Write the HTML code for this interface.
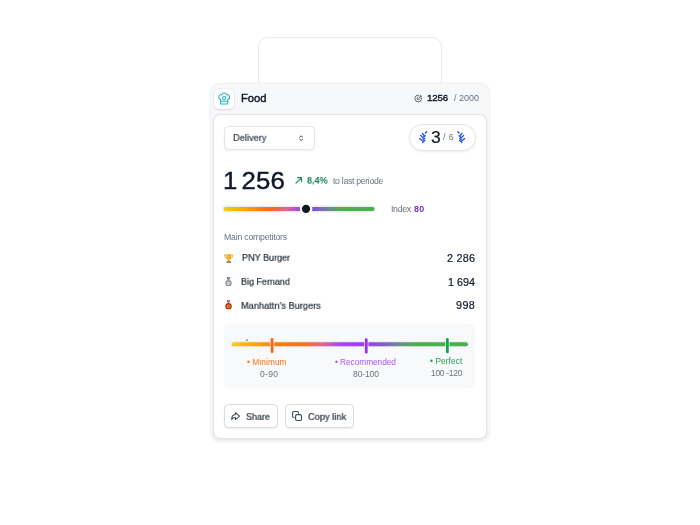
<!DOCTYPE html>
<html>
<head>
<meta charset="utf-8">
<style>
*{box-sizing:border-box;margin:0;padding:0}
html,body{width:700px;height:525px;background:#fff;overflow:hidden}
body{font-family:"Liberation Sans",sans-serif;color:#111827;position:relative}
.abs{position:absolute}
.t{position:absolute;white-space:nowrap;line-height:1;will-change:transform}
#back{left:258px;top:37px;width:184px;height:60px;border:1px solid #e7e9ed;border-radius:10px 10px 0 0;background:#fff}
#outer{left:210px;top:83px;width:280px;height:359px;background:#f7f8fa;border:1px solid #f2f3f6;border-radius:10px;box-shadow:0 0 0 .6px rgba(236,238,242,.5)}
#inner{left:213px;top:114px;width:274px;height:325px;background:#fff;border:1px solid #e4e6ea;border-radius:7.5px;box-shadow:0 0 0 .6px rgba(228,230,236,.5),0 1px 2px rgba(16,24,40,.07)}
#icobox{left:214px;top:88.5px;width:20px;height:20px;background:#fff;border-radius:4.5px;box-shadow:0 0 0 .5px rgba(16,24,40,.06),0 1px 2px rgba(16,24,40,.12)}
#select{left:224px;top:126px;width:91px;height:23.5px;background:#fff;border:1px solid #e2e5ea;border-radius:4.5px;box-shadow:0 1px 1.5px rgba(16,24,40,.07)}
#badge{left:409px;top:124.3px;width:66.5px;height:26.5px;background:#fff;border:1px solid #e2e5ea;border-radius:14px;box-shadow:0 1px 2px rgba(16,24,40,.08)}
.btn{top:404px;height:24px;background:#fff;border:1px solid #d9dce2;border-radius:4.5px;box-shadow:0 1px 1.5px rgba(16,24,40,.07)}
#panel{left:224px;top:323.5px;width:251.5px;height:65px;background:#f7f8fa;border-radius:6px}
.bar{border-radius:4px;background:linear-gradient(90deg,#f6cb14 0%,#f9a11b 18%,#f97316 33%,#c65ad0 46%,#a855f7 55%,#7e7bb0 65%,#4caf50 78%,#4caf50 100%)}
.tick{width:2.8px;height:15.8px;border-radius:1.4px;top:337.4px}
</style>
</head>
<body>
<div id="back" class="abs"></div>
<div id="outer" class="abs"></div>
<div id="inner" class="abs"></div>

<!-- header -->
<div id="icobox" class="abs"></div>
<svg class="abs" style="left:217.900px;top:92px" width="12.400" height="12.600" viewBox="0 0 24 24.400" fill="none" stroke="#1fb6d3" stroke-width="2.100" stroke-linecap="round" stroke-linejoin="round">
<path d="M5 18V14.400A4.500 4.500 0 0 1 7.200 5.600 5 5 0 0 1 16.800 5.600 4.500 4.500 0 0 1 19 14.400V18"/>
<rect x="5" y="18" width="14" height="5.200" rx="1"/>
<circle cx="12" cy="11.800" r="3.100"/>
</svg>
<div class="t" style="left:241.300px;top:93.400px;font-size:11.200px;color:#111827;letter-spacing:-.05px;-webkit-text-stroke:.42px #111827">Food</div>

<svg class="abs" style="left:413.800px;top:94px" width="8.600" height="8.600" viewBox="0 0 24 24" fill="none" stroke="#4b5563" stroke-width="2.400" stroke-linecap="round" stroke-linejoin="round">
<path d="M12.500 3A9.500 9.500 0 1 0 21.500 12"/>
<path d="M11 8.600A4 4 0 1 0 15.900 13.500"/>
<path d="M12.300 12.200 17.500 7" stroke-width="2"/>
<path d="M16.600 8 17.600 3 21.600 7Z" fill="#4b5563" stroke-width="1.400"/>
</svg>
<div class="t" style="left:427.200px;top:93px;font-size:9.700px;color:#111827;letter-spacing:-.1px;-webkit-text-stroke:.38px #111827">1256</div>
<div class="t" style="left:454px;top:94.400px;font-size:9px;color:#6b7280">/ 2000</div>

<!-- select -->
<div id="select" class="abs"></div>
<div class="t" style="left:233.200px;top:134.100px;font-size:10px;color:#1f2937;-webkit-text-stroke:.14px #1f2937;transform:scale(.928,.88);transform-origin:0 0">Delivery</div>
<svg class="abs" style="left:298.800px;top:134.500px" width="4.400" height="6.400" viewBox="0 0 8.800 12.800" fill="none" stroke="#3b4756" stroke-width="1.900" stroke-linecap="round" stroke-linejoin="round">
<path d="M1.400 4.700 4.400 1.500 7.400 4.700M1.400 8.100 4.400 11.300 7.400 8.100"/>
</svg>

<!-- badge -->
<div id="badge" class="abs"></div>
<svg class="abs" style="left:416px;top:128px" width="52" height="18" viewBox="416 128 52 18" fill="none" stroke="#1d4ffa" stroke-width="1.3" stroke-linecap="round">
<path d="M425.35 132.95L426.60 131.70"/>
<path d="M424.00 135.30L422.40 133.50"/>
<path d="M422.90 137.80L420.70 135.40"/>
<path d="M422.10 140.60L419.70 138.60"/>
<path d="M423.80 137.00L425.30 135.75"/>
<path d="M423.30 139.50L424.75 138.40"/>
<path d="M422.70 142.20L424.75 140.50"/>
<path d="M422.60 143.00Q423.20 139.50 424.20 135.50" stroke-width=".7"/>
<path d="M459.05 132.95L457.80 131.70"/>
<path d="M460.40 135.30L462.00 133.50"/>
<path d="M461.50 137.80L463.70 135.40"/>
<path d="M462.30 140.60L464.70 138.60"/>
<path d="M460.60 137.00L459.10 135.75"/>
<path d="M461.10 139.50L459.65 138.40"/>
<path d="M461.70 142.20L459.65 140.50"/>
<path d="M461.80 143.00Q461.20 139.50 460.20 135.50" stroke-width=".7"/>
</svg>
<div class="t" style="left:431px;top:130px;font-size:15.900px;color:#111827;-webkit-text-stroke:.2px #111827;transform:scaleX(1.1);transform-origin:0 0">3</div>
<div class="t" style="left:443px;top:133px;font-size:8.800px;color:#6b7280;letter-spacing:.4px">/ 6</div>

<!-- big number -->
<div class="t" style="left:222.600px;top:169.200px;font-size:24.400px;color:#0f172a;letter-spacing:.2px;word-spacing:-3.200px;-webkit-text-stroke:.4px #0f172a;transform:scaleX(1.056);transform-origin:0 0">1 256</div>
<svg class="abs" style="left:295.200px;top:177.400px" width="7.600" height="7.100" viewBox="0 0 16 15" fill="none" stroke="#15945a" stroke-width="2.500" stroke-linecap="round" stroke-linejoin="round">
<path d="M2 13 13.500 1.800M5.500 1.500h8.200v8.200"/>
</svg>
<div class="t" style="left:307px;top:176.650px;font-size:10px;font-weight:700;color:#12805c;transform:scale(.9,.82);transform-origin:0 0">8,4%</div>
<div class="t" style="left:332.500px;top:176.800px;font-size:8.700px;color:#6b7280;letter-spacing:-.3px">to last periode</div>

<!-- slider -->
<svg class="abs" style="left:216px;top:200px" width="168" height="18" viewBox="216 200 168 18">
<defs><linearGradient id="g1" x1="223.800" y1="0" x2="374.500" y2="0" gradientUnits="userSpaceOnUse">
<stop offset="0" stop-color="#fcc81a"/><stop offset=".14" stop-color="#fba50d"/><stop offset=".27" stop-color="#f97316"/><stop offset=".33" stop-color="#f3672e"/><stop offset=".41" stop-color="#dd6a84"/><stop offset=".47" stop-color="#ba55c8"/><stop offset=".515" stop-color="#a040ea"/><stop offset=".56" stop-color="#9645e6"/><stop offset=".62" stop-color="#7f5fc8"/><stop offset=".70" stop-color="#6f8a90"/><stop offset=".78" stop-color="#48b04b"/><stop offset="1" stop-color="#48b04b"/>
</linearGradient></defs>
<rect x="222.300" y="205.500" width="152.800" height="7" rx="3.500" fill="#e8ebef"/>
<rect x="223.800" y="206.900" width="150.700" height="4.200" rx="2.100" fill="url(#g1)"/>
<circle cx="306.050" cy="208.850" r="6.300" fill="#f1f3f5"/>
<circle cx="306.050" cy="208.850" r="5.400" fill="#fff"/>
<circle cx="306.050" cy="208.850" r="4.150" fill="#0f1820"/>
</svg>
<div class="t" style="left:390.500px;top:204.800px;font-size:8.900px;color:#6b7280;letter-spacing:-.35px">Index</div>
<div class="t" style="left:414px;top:204.800px;font-size:8.900px;font-weight:700;color:#6f31dc;letter-spacing:.25px">80</div>

<!-- competitors -->
<div class="t" style="left:224px;top:232.700px;font-size:8.700px;color:#6b7280;letter-spacing:-.2px">Main competitors</div>

<div class="t" style="left:242.300px;top:254.400px;font-size:10px;color:#18212e;-webkit-text-stroke:.2px #18212e;transform:scale(.905,.85);transform-origin:0 0">PNY Burger</div>
<div class="t" style="left:240.800px;top:278.400px;font-size:10px;color:#18212e;-webkit-text-stroke:.2px #18212e;transform:scale(.897,.85);transform-origin:0 0">Big Fernand</div>
<div class="t" style="left:240.800px;top:302px;font-size:10px;color:#18212e;-webkit-text-stroke:.2px #18212e;transform:scale(.922,.85);transform-origin:0 0">Manhattn’s Burgers</div>
<div class="t" style="right:225px;top:252.800px;font-size:10.800px;color:#111827;-webkit-text-stroke:.2px #111827;letter-spacing:.25px;margin-right:-.25px">2 286</div>
<div class="t" style="right:225px;top:277.300px;font-size:10.800px;color:#111827;-webkit-text-stroke:.2px #111827">1 694</div>
<div class="t" style="right:225px;top:299.800px;font-size:10.800px;color:#111827;-webkit-text-stroke:.2px #111827;letter-spacing:.4px;margin-right:-.4px">998</div>

<!-- trophy -->
<svg class="abs" style="left:223.800px;top:253.500px" width="9.500" height="9.700" viewBox="0 0 19 19.400">
<path d="M4.600 .5h9.800v6.700a4.900 4.900 0 0 1-9.800 0Z" fill="#f6a81c"/>
<path d="M4.600 2.200H1c0 3.800 1.600 5.400 4.200 5.700M14.400 2.200H18c0 3.800-1.600 5.400-4.200 5.700" fill="none" stroke="#e9950f" stroke-width="1.600"/>
<path d="M8.300 11.500h2.400l.5 3.500H7.800Z" fill="#e08a0b"/>
<rect x="5.200" y="14.600" width="8.600" height="4.300" rx=".9" fill="#9a5a22"/>
<rect x="7" y="16" width="5" height="1.500" fill="#e9a23b"/>
<rect x="6.600" y="1.500" width="1.700" height="5.500" rx=".8" fill="#fcd872"/>
</svg>
<!-- silver medal -->
<svg class="abs" style="left:225px;top:276.800px" width="7" height="9.500" viewBox="0 0 14 19">
<path d="M3.600 0h3l1.400 5.500H5.200Z" fill="#3b6fd4"/>
<path d="M10.400 0h-3L6 5.500h2.800Z" fill="#e0475a"/>
<circle cx="7" cy="12.300" r="6.400" fill="#8b8e94"/>
<circle cx="7" cy="12.300" r="4" fill="#c9ccd1"/>
</svg>
<!-- bronze medal -->
<svg class="abs" style="left:225px;top:300.300px" width="7" height="9.500" viewBox="0 0 14 19">
<path d="M3.600 0h3l1.400 5.500H5.200Z" fill="#3b6fd4"/>
<path d="M10.400 0h-3L6 5.500h2.800Z" fill="#e0475a"/>
<circle cx="7" cy="12.300" r="6.400" fill="#a23a12"/>
<circle cx="7" cy="12.300" r="4" fill="#dd6f24"/>
</svg>

<!-- panel -->
<svg class="abs" style="left:220px;top:320px" width="260" height="72" viewBox="220 320 260 72">
<defs><linearGradient id="g2" x1="231.700" y1="0" x2="467.900" y2="0" gradientUnits="userSpaceOnUse">
<stop offset="0" stop-color="#fcc81a"/><stop offset=".12" stop-color="#fb9d0c"/><stop offset=".20" stop-color="#f97a12"/><stop offset=".30" stop-color="#f97316"/><stop offset=".38" stop-color="#dd6a8c"/><stop offset=".46" stop-color="#a845f5"/><stop offset=".57" stop-color="#9d3ff0"/><stop offset=".64" stop-color="#7f5fc8"/><stop offset=".71" stop-color="#6f8a90"/><stop offset=".78" stop-color="#48b04b"/><stop offset="1" stop-color="#48b04b"/>
</linearGradient></defs>
<rect x="223.700" y="323.400" width="251.800" height="65.200" rx="6" fill="#f8f9fb"/>
<rect x="230.500" y="341.100" width="238.600" height="6.500" rx="3.250" fill="#eef0f6"/>
<rect x="231.700" y="342.250" width="236.200" height="4.100" rx="2.050" fill="url(#g2)"/>
<rect x="269.800" y="337.100" width="4.500" height="16.900" rx="2.250" fill="#fff" opacity=".75"/>
<rect x="364" y="337.400" width="4.500" height="16.900" rx="2.250" fill="#fff" opacity=".75"/>
<rect x="445.100" y="337.200" width="4.500" height="16.900" rx="2.250" fill="#fff" opacity=".75"/>
<rect x="270.650" y="337.900" width="2.800" height="15.300" rx="1.400" fill="#f9650f"/>
<rect x="364.850" y="338.200" width="2.800" height="15.400" rx="1.400" fill="#9333ea"/>
<rect x="445.950" y="338" width="2.800" height="15.300" rx="1.400" fill="#16a34a"/>
<rect x="246.200" y="339.600" width="1.600" height="1.100" fill="#4b5563"/>
</svg>
<div class="t" style="left:247.400px;top:358.300px;font-size:8.300px;color:#f97316;letter-spacing:.08px">• Minimum</div>
<div class="t" style="left:259.800px;top:369.800px;font-size:8.500px;color:#6b7280;letter-spacing:.3px">0-90</div>
<div class="t" style="left:335px;top:358.300px;font-size:8.300px;color:#a855f7;letter-spacing:-.05px">• Recommended</div>
<div class="t" style="left:352.800px;top:369.800px;font-size:8.500px;color:#6b7280;letter-spacing:-.1px">80-100</div>
<div class="t" style="left:430.400px;top:357.300px;font-size:8.300px;color:#22a04a;letter-spacing:.1px">• Perfect</div>
<div class="t" style="left:430.600px;top:369px;font-size:8.500px;color:#6b7280;letter-spacing:-.3px">100 -120</div>

<!-- buttons -->
<div class="abs btn" style="left:224px;width:53.800px"></div>
<div class="abs btn" style="left:285.300px;width:68.300px"></div>
<svg class="abs" style="left:230.900px;top:411.800px" width="9.200" height="8.200" viewBox="0 0 18.200 16.200" fill="none" stroke="#3b4756" stroke-width="2" stroke-linecap="round" stroke-linejoin="round">
<path d="M8.800 1.300 17 8.100 8.800 14.900V11.100C5.200 11.100 2.900 12.100 1.300 14.700 1.300 9.200 4.100 5.500 8.800 5.100Z"/>
</svg>
<div class="t" style="left:246.400px;top:412.700px;font-size:10px;color:#1f2937;-webkit-text-stroke:.2px #1f2937;transform:scale(.898,.88);transform-origin:0 0">Share</div>
<svg class="abs" style="left:291.900px;top:410.900px" width="10" height="10" viewBox="0 0 20 20" fill="none" stroke="#3b4756" stroke-width="2.100" stroke-linecap="round" stroke-linejoin="round">
<rect x="7.200" y="7.200" width="11.700" height="11.700" rx="2.600"/>
<path d="M13.100 4.300V3.700a2.600 2.600 0 0 0-2.600-2.600H3.700a2.600 2.600 0 0 0-2.600 2.600v6.800a2.600 2.600 0 0 0 2.600 2.600h.6"/>
</svg>
<div class="t" style="left:307.500px;top:412.700px;font-size:10px;color:#1f2937;-webkit-text-stroke:.2px #1f2937;transform:scale(.928,.88);transform-origin:0 0">Copy link</div>
</body>
</html>
